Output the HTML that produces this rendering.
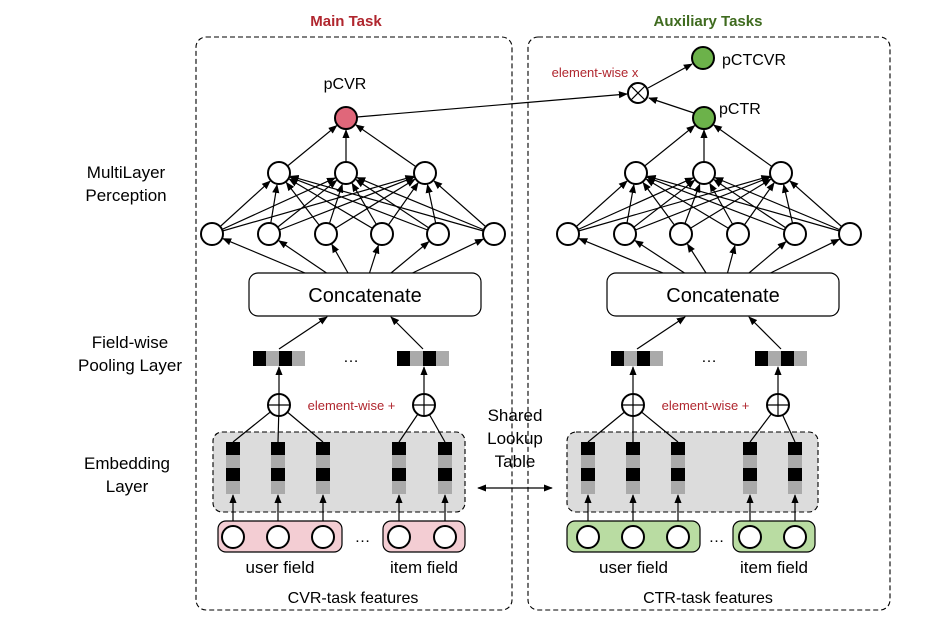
<!DOCTYPE html>
<html><head><meta charset="utf-8"><style>
html,body{margin:0;padding:0;background:#fff;}
svg{display:block;font-family:"Liberation Sans",Arial,sans-serif;}
</style></head><body>
<svg id="s" width="934" height="642" viewBox="0 0 934 642" xmlns="http://www.w3.org/2000/svg">
<defs>
<marker id="a" viewBox="0 0 10 10" refX="9" refY="5" markerWidth="9" markerHeight="9" markerUnits="userSpaceOnUse" orient="auto"><path d="M0,1 L10,5 L0,9 z" fill="#000"/></marker>
</defs>
<g id="g"></g>
</svg>
<script>
var NS="http://www.w3.org/2000/svg",G=document.getElementById("g");
function el(t,at,txt){var e=document.createElementNS(NS,t);for(var k in at)e.setAttribute(k,at[k]);if(txt!=null)e.textContent=txt;G.appendChild(e);return e;}
function line(x1,y1,x2,y2,arrow,r){ if(r){var dx=x2-x1,dy=y2-y1,d=Math.hypot(dx,dy);x2-=dx/d*r;y2-=dy/d*r;}
 var at={x1:x1,y1:y1,x2:x2,y2:y2,stroke:"#000","stroke-width":1.2};if(arrow)at["marker-end"]="url(#a)";el("line",at);}
function circ(x,y,r,f){el("circle",{cx:x,cy:y,r:r,fill:f||"#fff",stroke:"#000","stroke-width":2});}
function text(x,y,s,sz,fill,anchor,w){el("text",{x:x,y:y,"font-size":sz,fill:fill||"#000","text-anchor":anchor||"middle","font-weight":w||"normal"},s);}
function plus(x,y,r){circ(x,y,r);line(x-r,y,x+r,y);line(x,y-r,x,y+r);}
// panels
el("rect",{x:196,y:37,width:316,height:573,rx:10,fill:"none",stroke:"#000","stroke-width":1.1,"stroke-dasharray":"5,3"});
el("rect",{x:528,y:37,width:362,height:573,rx:10,fill:"none",stroke:"#000","stroke-width":1.1,"stroke-dasharray":"5,3"});
text(346,26,"Main Task",15,"#b0262e","middle","bold");
text(708,26,"Auxiliary Tasks",15,"#3f6b1f","middle","bold");
// side labels
text(126,178,"MultiLayer",17);text(126,201,"Perception",17);
text(130,348,"Field-wise",17);text(130,371,"Pooling Layer",17);
text(127,469,"Embedding",17);text(127,492,"Layer",17);
text(515,421,"Shared",17);text(515,444,"Lookup",17);text(515,467,"Table",17);
line(515,488,478,488,true);line(515,488,552,488,true);
function side(o){
 var B=o.bottom,M=o.mid,by=234,my=173,r=11;
 // concat->bottom
 var cs=o.cx0;
 for(var i=0;i<6;i++){line(cs+i*21.5,273,B[i],by,true,r+1);}
 for(var i=0;i<6;i++)for(var j=0;j<3;j++)line(B[i],by,M[j],my,true,r+1);
 for(var j=0;j<3;j++)line(M[j],my,o.top[0],o.top[1],true,r+1);
 for(var i=0;i<6;i++)circ(B[i],by,r);
 for(var j=0;j<3;j++)circ(M[j],my,r);
 circ(o.top[0],o.top[1],r,o.topFill);
 el("rect",{x:o.cb[0],y:273,width:o.cb[1]-o.cb[0],height:43,rx:9,fill:"#fff",stroke:"#000","stroke-width":1.2});
 text((o.cb[0]+o.cb[1])/2,302,"Concatenate",20);
 // pooling
 var P=o.pool;
 for(var k=0;k<2;k++){var px=P[k];for(var c=0;c<4;c++)el("rect",{x:px+c*13,y:351,width:13,height:15,fill:c%2?"#aaa":"#000"});}
 text((P[0]+P[1]+52)/2,362,"…",16);
 line(P[0]+26,349,o.cb[0]+78,317,true);line(P[1]+26,349,o.cb[1]-90,317,true);
 // plus
 var Q=o.plus;
 line(Q[0],394,Q[0],367,true);line(Q[1],394,Q[1],367,true);
 text((Q[0]+Q[1])/2,410,"element-wise +",13,"#b0262e");
 // embedding box
 el("rect",{x:o.eb[0],y:432,width:o.eb[1]-o.eb[0],height:80,rx:9,fill:"#dcdcdc",stroke:"#000","stroke-width":1.1,"stroke-dasharray":"5,3"});
 var C=o.cols;
 for(var i=0;i<5;i++){for(var c=0;c<4;c++)el("rect",{x:C[i]-7,y:442+c*13,width:14,height:13,fill:c%2?"#aaa":"#000"});
   line(C[i],528,C[i],495,true);}
 for(var i=0;i<3;i++)line(Q[0],405,C[i],442);
 for(var i=3;i<5;i++)line(Q[1],405,C[i],442);
 plus(Q[0],405,11);plus(Q[1],405,11);
 // input boxes
 el("rect",{x:o.ib[0],y:521,width:o.ib[1]-o.ib[0],height:31,rx:8,fill:o.inFill,stroke:"#000","stroke-width":1.2});
 el("rect",{x:o.ib[2],y:521,width:o.ib[3]-o.ib[2],height:31,rx:8,fill:o.inFill,stroke:"#000","stroke-width":1.2});
 for(var i=0;i<5;i++)circ(C[i],537,11);
 text((o.ib[1]+o.ib[2])/2,542,"…",16);
 text((o.ib[0]+o.ib[1])/2+(o.uoff||0),573,"user field",17);
 text((o.ib[2]+o.ib[3])/2,573,"item field",17);
 text(o.feat[0],603,o.feat[1],16);
}
side({bottom:[212,269,326,382,438,494],mid:[279,346,425],top:[346,118],topFill:"#e0677a",
 cx0:305,cb:[249,481],pool:[253,397],plus:[279,424],eb:[213,465],cols:[233,278,323,399,445],
 ib:[218,342,383,465],inFill:"#f3cdd3",feat:[353,"CVR-task features"]});
side({bottom:[568,625,681,738,795,850],mid:[636,704,781],top:[704,118],topFill:"#6cb24a",
 cx0:663,cb:[607,839],pool:[611,755],plus:[633,778],eb:[567,818],cols:[588,633,678,750,795],
 ib:[567,700,733,815],inFill:"#b9dca2",feat:[708,"CTR-task features"]});
text(345,89,"pCVR",16);
// top aux
line(357,117,627,94,true);
line(694,113,649,98,true);
line(648,88,692,64,true);
circ(638,93,10);line(631,86,645,100);line(645,86,631,100);
circ(703,58,11,"#6cb24a");
text(722,65,"pCTCVR",16,"#000","start");
text(719,114,"pCTR",16,"#000","start");
text(595,77,"element-wise x",13,"#b0262e");
</script>
</body></html>
